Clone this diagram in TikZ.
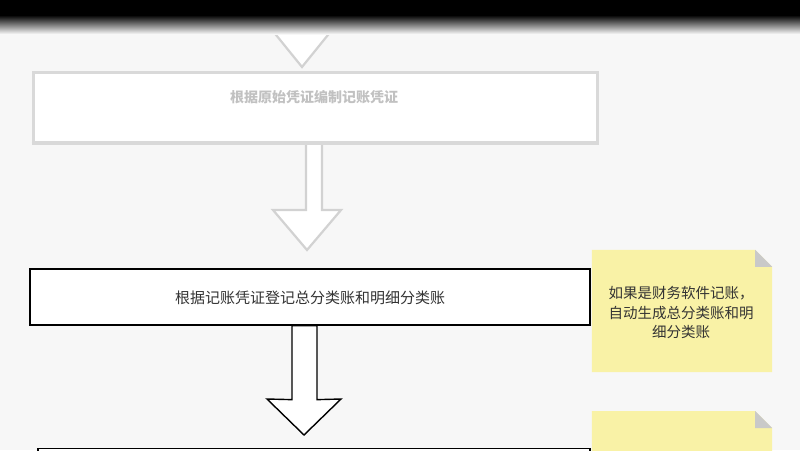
\documentclass[tikz,border=0pt]{standalone}
\usepackage{fontspec}
\newfontfamily\cjk{Noto Sans CJK SC}
\usetikzlibrary{calc}
\definecolor{bgcol}{HTML}{F7F7F7}
\definecolor{notecol}{HTML}{F9F2A6}
\definecolor{foldcol}{HTML}{C9C9C9}
\definecolor{txtcol}{HTML}{333333}
\begin{document}
\begin{tikzpicture}[x=1pt,y=-1pt,
  boxmain/.style={draw=black, line width=1.3pt, fill=white, inner sep=0pt},
  boxfaded/.style={draw=gray!30, line width=3pt, fill=white, inner sep=0pt},
  blockarrow/.style={draw=black, line width=1.4pt, fill=white, line join=miter},
  fadedarrow/.style={draw=gray!35, line width=2.2pt, fill=white, line join=miter},
  notetext/.style={font=\cjk\fontsize{14.5}{19.5}\selectfont, text=txtcol, align=center, inner sep=0pt},
  boxtext/.style={font=\cjk\fontsize{15}{18}\selectfont, text=txtcol, inner sep=0pt}]
\useasboundingbox (0,0) rectangle (800,450);
\clip (0,0) rectangle (800,450);
\fill[bgcol] (0,0) rectangle (800,450);

% faded top arrow (mostly hidden under the dark bar)
\coordinate (a1) at (302,67);
\draw[fadedarrow] ($(a1)+(-14,-80)$) -- ($(a1)+(-14,-42)$) -- ($(a1)+(-34,-42)$) -- (a1)
  -- ($(a1)+(34,-42)$) -- ($(a1)+(14,-42)$) -- ($(a1)+(14,-80)$) -- cycle;

% faded first box
\node[boxfaded, minimum width=564, minimum height=70] (b1) at (315,107) {};
\node[font=\cjk\bfseries\fontsize{14}{16}\selectfont, text=gray!60, inner sep=0pt, opacity=0.8] (t1) at (314,97) {根据原始凭证编制记账凭证};

% faded second arrow
\node[boxmain, minimum width=560, minimum height=56] (b2) at (310,297) {};
\coordinate (a2) at (307,250);
\draw[fadedarrow] ($(b1.south)+(-9,0)$) coordinate (s2) -- (s2 |- 0,210) -- ($(a2)+(-34,-40)$) -- (a2)
  -- ($(a2)+(34,-40)$) -- ($(a2)+(15,-40)$) -- ($(b1.south)+(-8,0)+(15,0)$) -- cycle;

% redraw faded box border on top of arrow start
\draw[draw=gray!30, line width=3pt] (b1.south west) -- (b1.south east);

% second box text
\node[boxtext] (t2) at (310,298) {根据记账凭证登记总分类账和明细分类账};

% third box
\node[boxmain, minimum width=552, minimum height=40, anchor=north] (b3) at (314,448) {};

% black block arrow between box 2 and box 3
\coordinate (a3) at ($(b3.north)+(-10,-13)$);
\draw[blockarrow] ($(b2.south)+(-18,0)$) -- ($(b2.south)+(-18,74)$) -- ($(a3)+(-37,-36)$) -- (a3)
  -- ($(a3)+(37,-36)$) -- ($(b2.south)+(7,74)$) -- ($(b2.south)+(7,0)$) -- cycle;
\draw[line width=1.3pt] (b2.south west) -- (b2.south east);

% notes
\node[minimum width=180, minimum height=122, inner sep=0pt] (n1) at (682,311) {};
\fill[notecol] (n1.north west) -- ($(n1.north east)+(-17,0)$) -- ($(n1.north east)+(0,17)$)
  -- (n1.south east) -- (n1.south west) -- cycle;
\fill[foldcol] ($(n1.north east)+(-17,0)$) -- ($(n1.north east)+(0,17)$) -- ($(n1.north east)+(-17,17)$) -- cycle;
\node[notetext] (nt1) at (681,313) {如果是财务软件记账，\\自动生成总分类账和明\\细分类账};

\node[minimum width=180, minimum height=80, inner sep=0pt, anchor=north] (n2) at (682,411) {};
\fill[notecol] (n2.north west) -- ($(n2.north east)+(-17,0)$) -- ($(n2.north east)+(0,17)$)
  -- (n2.south east) -- (n2.south west) -- cycle;
\fill[foldcol] ($(n2.north east)+(-17,0)$) -- ($(n2.north east)+(0,17)$) -- ($(n2.north east)+(-17,17)$) -- cycle;

% dark bar at top
\fill[black] (0,0) rectangle (800,15);
\shade[top color=black, bottom color=bgcol] (0,15) rectangle (800,34);
\end{tikzpicture}
\end{document}
